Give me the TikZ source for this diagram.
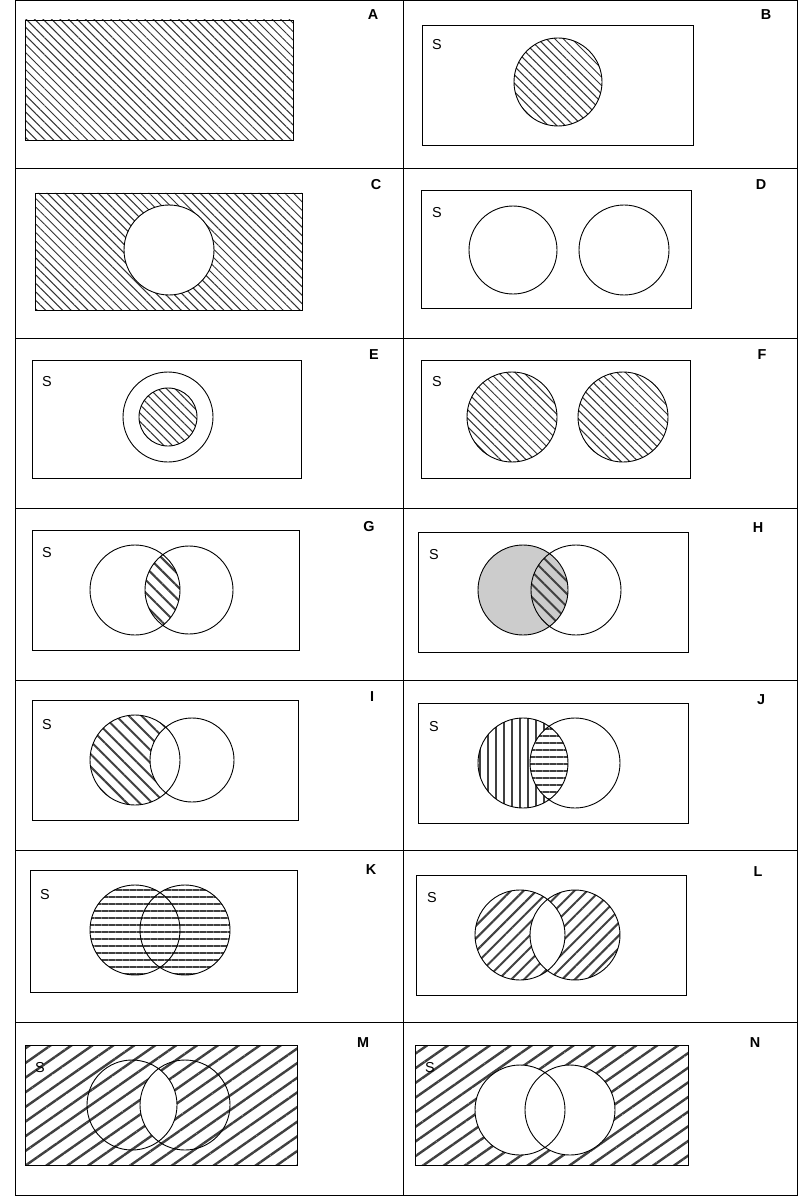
\documentclass[tikz,border=0pt]{standalone}
\usepackage{fontspec}
\setmainfont{Liberation Sans}
\usetikzlibrary{patterns.meta}
\tikzset{
 box/.style={draw=black,line width=0.9pt},
 circ/.style={draw=black,line width=0.9pt},
 hatchA/.style={pattern={Lines[angle=-45,distance=6pt,line width=1pt]},pattern color=black!80},
 hatchB/.style={pattern={Lines[angle=45,distance=9pt,line width=2pt]},pattern color=black!75},
 hatchC/.style={pattern={Lines[angle=-45,distance=9pt,line width=2pt]},pattern color=black!75},
 hatchH/.style={pattern={Lines[angle=0,distance=7pt,line width=2pt]},pattern color=black!75},
 hatchV/.style={pattern={Lines[angle=90,distance=8pt,line width=2pt]},pattern color=black!75},
 hatchM/.style={pattern={Lines[angle=35,distance=12pt,line width=2.4pt]},pattern color=black!75},
 lab/.style={font=\bfseries\Large},
 slab/.style={font=\Large},
}
\begin{document}
\begin{tikzpicture}[x=1pt,y=-1pt]
\useasboundingbox (0,0) rectangle (810,1198);
% grid
\draw[line width=0.8pt] (15,0) rectangle (797,1195);
\draw[line width=0.8pt] (403,0) -- (403,1195);
\foreach \y in {168,338,508,680,850,1022} \draw[line width=0.8pt] (15,\y) -- (797,\y);
% A
\fill[hatchA] (25,20) rectangle (293,140);
\draw[box] (25,20) rectangle (293,140);
\node[lab] (la) at (373,15) {A};
% B
\draw[box] (422,25) rectangle (693,145);
\node[slab] (sb) at (437,45) {S};
\fill[hatchA] (558,82) circle (44);
\draw[circ] (558,82) circle (44);
\node[lab] (lb) at (766,15) {B};
% C
\fill[hatchA,even odd rule] (35,193) rectangle (302,310) (169,250) circle (45);
\draw[box] (35,193) rectangle (302,310);
\draw[circ] (169,250) circle (45);
\node[lab] (lc) at (376,185) {C};
% D
\draw[box] (421,190) rectangle (691,308);
\node[slab] (sd) at (437,213) {S};
\draw[circ] (513,250) circle (44) (624,250) circle (45);
\node[lab] (ld) at (761,185) {D};
% E
\draw[box] (32,360) rectangle (301,478);
\node[slab] (se) at (47,382) {S};
\fill[hatchA] (168,417) circle (29);
\draw[circ] (168,417) circle (45) (168,417) circle (29);
\node[lab] (le) at (374,355) {E};
% F
\draw[box] (421,360) rectangle (690,478);
\node[slab] (sf) at (437,382) {S};
\fill[hatchA] (512,417) circle (45) (623,417) circle (45);
\draw[circ] (512,417) circle (45) (623,417) circle (45);
\node[lab] (lf) at (762,355) {F};
% G
\draw[box] (32,530) rectangle (299,650);
\node[slab] (sg) at (47,553) {S};
\begin{scope}\clip (135,590) circle (45); \fill[hatchC] (189,590) circle (44);\end{scope}
\draw[circ] (135,590) circle (45) (189,590) circle (44);
\node[lab] (lg) at (369,527) {G};
% H
\draw[box] (418,532) rectangle (688,652);
\node[slab] (sh) at (434,555) {S};
\fill[black!20] (523,590) circle (45);
\begin{scope}\clip (523,590) circle (45); \fill[hatchC] (576,590) circle (45);\end{scope}
\draw[circ] (523,590) circle (45) (576,590) circle (45);
\node[lab] (lh) at (758,528) {H};
% I
\draw[box] (32,700) rectangle (298,820);
\node[slab] (si) at (47,725) {S};
\begin{scope}\clip (135,760) circle (45); \fill[hatchC,even odd rule] (135,760) circle (45) (192,760) circle (42);\end{scope}
\draw[circ] (135,760) circle (45) (192,760) circle (42);
\node[lab] (li) at (372,697) {I};
% J
\draw[box] (418,703) rectangle (688,823);
\node[slab] (sj) at (434,727) {S};
\begin{scope}\clip (523,763) circle (45); \fill[hatchV,even odd rule] (523,763) circle (45) (575,763) circle (45);\end{scope}
\begin{scope}\clip (523,763) circle (45); \fill[hatchH] (575,763) circle (45);\end{scope}
\draw[circ] (523,763) circle (45) (575,763) circle (45);
\node[lab] (lj) at (761,700) {J};
% K
\draw[box] (30,870) rectangle (297,992);
\node[slab] (sk) at (45,895) {S};
\fill[hatchH] (135,930) circle (45) (185,930) circle (45);
\draw[circ] (135,930) circle (45) (185,930) circle (45);
\node[lab] (lk) at (371,870) {K};
% L
\draw[box] (416,875) rectangle (686,995);
\node[slab] (sl) at (432,898) {S};
\fill[hatchB,even odd rule] (520,935) circle (45) (575,935) circle (45);
\draw[circ] (520,935) circle (45) (575,935) circle (45);
\node[lab] (ll) at (758,872) {L};
% M
\fill[hatchM] (25,1045) rectangle (297,1165);
\begin{scope}\clip (132,1105) circle (45); \fill[white] (185,1105) circle (45);\end{scope}
\draw[box] (25,1045) rectangle (297,1165);
\node[slab] (sm) at (40,1068) {S};
\draw[circ] (132,1105) circle (45) (185,1105) circle (45);
\node[lab] (lm) at (363,1043) {M};
% N
\fill[hatchM] (415,1045) rectangle (688,1165);
\fill[white] (520,1110) circle (45) (570,1110) circle (45);
\draw[box] (415,1045) rectangle (688,1165);
\node[slab] (sn) at (430,1068) {S};
\draw[circ] (520,1110) circle (45) (570,1110) circle (45);
\node[lab] (ln) at (755,1043) {N};
\end{tikzpicture}
\end{document}
